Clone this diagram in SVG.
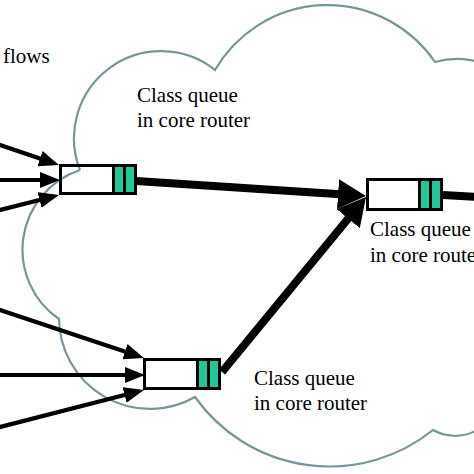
<svg xmlns="http://www.w3.org/2000/svg" width="474" height="474" viewBox="0 0 474 474">
<style>
.cloud{fill:none;stroke:#76979a;stroke-width:2.2}
.box{fill:none;stroke:#000;stroke-width:3}
.bar{fill:#1fc896;stroke:#000;stroke-width:3}
.thin{stroke:#000;stroke-width:4.2;fill:none;marker-end:url(#ah)}
.thick{stroke:#000;stroke-width:8;fill:none}
.thick.arr{marker-end:url(#ahb)}
text{font-family:"Liberation Serif","Times New Roman",serif;font-size:21px;fill:#000}
</style>
<defs>
<marker id="ah" markerUnits="userSpaceOnUse" markerWidth="20" markerHeight="16" refX="10" refY="8" orient="auto">
<path d="M0,0 L20,8 L0,16 z" fill="#000"/>
</marker>
<marker id="ahb" markerUnits="userSpaceOnUse" markerWidth="28" markerHeight="30" refX="14" refY="15" orient="auto">
<path d="M0,0 L28,15 L0,30 z" fill="#000"/>
</marker>
</defs>
<rect width="474" height="474" fill="#fff"/>
<g id="cloud">
<path class="cloud" d="M80,170 A87,87 0 0 1 215,70 A130,130 0 0 1 435,62 A82,82 0 0 1 539,141 L500,393 A45,45 0 0 1 433,430 A165,165 0 0 1 195,397 A91,91 0 0 1 59,319 A84,84 0 0 1 80,170"/>
</g>
<g id="label-flows"><text x="3" y="63">flows</text></g>
<g id="queue1">
<rect class="box" x="60.5" y="165.5" width="75" height="28"/>
<rect class="bar" x="113.5" y="165.5" width="11" height="28"/>
<rect class="bar" x="124.5" y="165.5" width="11" height="28"/>
<text x="137" y="102">Class queue</text>
<text x="137" y="127">in core router</text>
</g>
<g id="queue2">
<rect class="box" x="144.5" y="359.5" width="75" height="29"/>
<rect class="bar" x="197.5" y="359.5" width="11" height="29"/>
<rect class="bar" x="208.5" y="359.5" width="11" height="29"/>
<text x="254" y="385">Class queue</text>
<text x="254" y="410">in core router</text>
</g>
<g id="queue3">
<rect class="box" x="367.5" y="179.5" width="74" height="30"/>
<rect class="bar" x="419.5" y="179.5" width="11" height="30"/>
<rect class="bar" x="430.5" y="179.5" width="11" height="30"/>
<text x="370" y="236">Class queue</text>
<text x="370" y="262">in core router</text>
</g>
<g id="connectors">
<line class="thin" x1="-3" y1="144" x2="49.5" y2="161.8"/>
<line class="thin" x1="-3" y1="180" x2="50" y2="180"/>
<line class="thin" x1="-3" y1="210.8" x2="49.3" y2="197.5"/>
<line class="thin" x1="-3" y1="309" x2="134.5" y2="354.8"/>
<line class="thin" x1="-3" y1="375" x2="135" y2="375"/>
<line class="thin" x1="-3" y1="427.8" x2="134.3" y2="392.5"/>
<line class="thick arr" x1="136" y1="181" x2="352" y2="195"/>
<line class="thick arr" x1="222" y1="372" x2="357.1" y2="207.8"/>
<line class="thick" x1="443" y1="195" x2="480" y2="197"/>
</g>
</svg>
